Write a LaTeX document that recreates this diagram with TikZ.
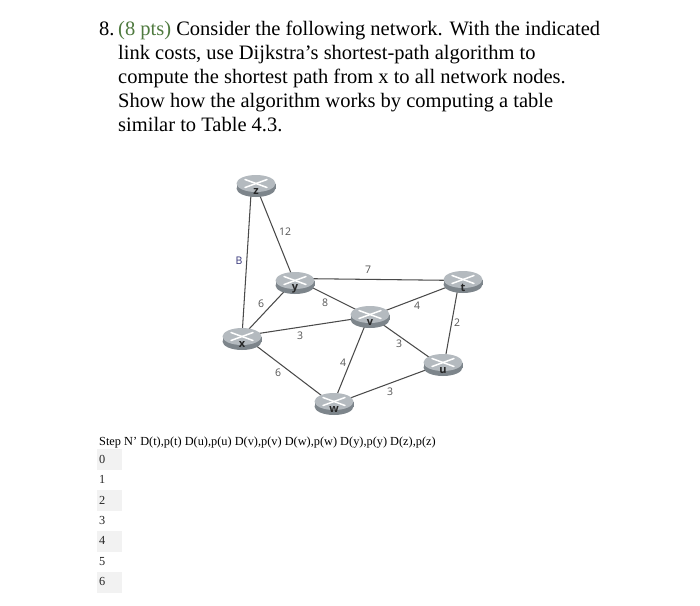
\documentclass[tikz,border=0pt]{standalone}
\usepackage{fontspec}
\setmainfont{Liberation Serif}
\setsansfont{Open Sans}
\usetikzlibrary{backgrounds,shapes.geometric}
\pgfdeclarelayer{edges}
\pgfsetlayers{background,edges,main}
\definecolor{rtop}{HTML}{B4BABF}
\definecolor{rside}{HTML}{7D858B}
\definecolor{ptsgreen}{HTML}{4F7A3F}
\definecolor{lnk}{HTML}{4A4A4A}
\definecolor{costc}{HTML}{555555}
\tikzset{
  x=1pt,y=-1pt,
  routernode/.style={ellipse,minimum width=39pt,minimum height=22pt,inner sep=0pt},
  link/.style={draw=lnk,line width=1.05pt},
  cost/.style={font=\sffamily\fontsize{10.5}{12}\selectfont,text=costc,inner sep=0pt},
  para/.style={anchor=base west,inner sep=0pt,font=\fontsize{20.5}{24}\selectfont,text=black},
  tablehd/.style={anchor=base west,inner sep=0pt,font=\fontsize{12.33}{15}\selectfont,text=black},
  rowno/.style={anchor=base west,inner sep=0pt,font=\fontsize{12.3}{15}\selectfont,text=black!85},
  rowbg/.style={fill=black!5,draw=none},
  rlabel/.style={font=\sffamily\bfseries\fontsize{11}{11}\selectfont,text=black!85,inner sep=0pt}
}
% name, x, y, label
\newcommand{\routerdraw}[4]{%
  \fill[rside] (#2,#3+2.5) ellipse[x radius=19.5,y radius=8.5];
  \fill[rside] (#2-19.5,#3-2.5) rectangle (#2+19.5,#3+2.5);
  \fill[rtop] (#2,#3-2.5) ellipse[x radius=19.5,y radius=8.5];
  \begin{scope}[white,line width=1.5pt,line cap=round]
    \draw (#2-11,#3-6.5) -- (#2+11,#3+1.5);
    \draw (#2+11,#3-6.5) -- (#2-11,#3+1.5);
  \end{scope}
  \node[routernode] (#1) at (#2,#3) {};
  \node[rlabel] (#1lab) at (#2,#3+5.5) {#4};
}
\begin{document}
\begin{tikzpicture}
\begin{pgfonlayer}{background}
\fill[white] (0,0) rectangle (700,605);
\end{pgfonlayer}
\useasboundingbox (0,0) rectangle (700,605);
\node[para] (l0) at (99,35) {8.};
\node[para] (l1) at (118,35) {\textcolor{ptsgreen}{(8 pts)} Consider the following network. With the indicated};
\node[para] (l2) at (118,59) {link costs, use Dijkstra’s shortest-path algorithm to};
\node[para] (l3) at (118,83) {compute the shortest path from x to all network nodes.};
\node[para] (l4) at (118,107) {Show how the algorithm works by computing a table};
\node[para] (l5) at (118,131) {similar to Table 4.3.};

\routerdraw{z}{256}{186}{z}
\routerdraw{y}{295}{283}{y}
\routerdraw{t}{463}{282}{t}
\routerdraw{v}{370}{317}{v}
\routerdraw{x}{242}{339}{x}
\routerdraw{u}{443}{365}{u}
\routerdraw{w}{334}{404}{w}

\begin{pgfonlayer}{edges}
\draw[link] ([xshift=-4.5pt]z.center) -- ([yshift=3pt]x.center);
\draw[link] (z.center) -- (y.center);
\draw[link] ([yshift=4.5pt]y.center) -- ([yshift=1.5pt]t.center);
\draw[link] ([yshift=4pt]y.center) -- ([yshift=0.5pt]v.center);
\draw[link] ([yshift=3pt]y.center) -- ([yshift=2.5pt]x.center);
\draw[link] ([yshift=3pt]x.center) -- ([yshift=0.5pt]v.center);
\draw[link] ([yshift=4pt]x.center) -- ([yshift=-1pt]w.center);
\draw[link] ([yshift=0.5pt]v.center) -- ([yshift=1pt]t.center);
\draw[link] ([yshift=1.5pt]v.center) -- ([yshift=-2pt]u.center);
\draw[link] ([yshift=4pt]v.center) -- ([yshift=2pt]w.center);
\draw[link] ([xshift=-4pt]t.center) -- ([xshift=1pt]u.center);
\draw[link] (w.center) -- ([yshift=1.4pt]u.center);
\end{pgfonlayer}

\node[cost] (c1) at (285,232) {12};
\node[cost,text=black!55!blue!60!gray] (c2) at (239,261) {B};
\node[cost] (c3) at (368,270) {7};
\node[cost] (c4) at (261,304) {6};
\node[cost] (c5) at (325,303) {8};
\node[cost] (c6) at (417,306) {4};
\node[cost] (c7) at (457,323) {2};
\node[cost] (c8) at (300,336) {3};
\node[cost] (c9) at (399,344) {3};
\node[cost] (c10) at (343,363) {4};
\node[cost] (c11) at (278,373) {6};
\node[cost] (c12) at (390,392) {3};

\node[tablehd] (hd) at (99,445) {Step N’ D(t),p(t) D(u),p(u) D(v),p(v) D(w),p(w) D(y),p(y) D(z),p(z)};
\fill[rowbg] (97,449) rectangle (122,470);
\fill[rowbg] (97,490) rectangle (122,511);
\fill[rowbg] (97,531) rectangle (122,552);
\fill[rowbg] (97,572) rectangle (122,593);
\node[rowno] (r0) at (99,463) {0};
\node[rowno] (r1) at (99,483) {1};
\node[rowno] (r2) at (99,504) {2};
\node[rowno] (r3) at (99,524) {3};
\node[rowno] (r4) at (99,544) {4};
\node[rowno] (r5) at (99,565) {5};
\node[rowno] (r6) at (99,585) {6};
\end{tikzpicture}
\end{document}
